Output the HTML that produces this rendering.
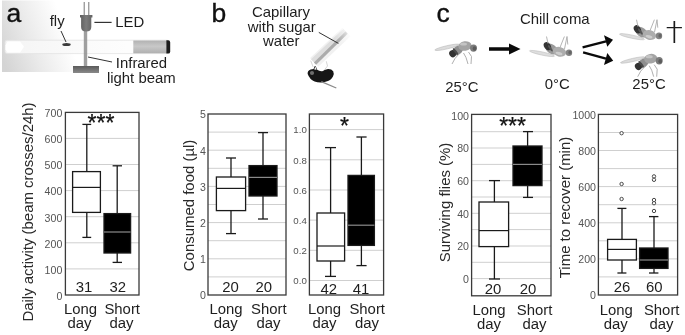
<!DOCTYPE html>
<html lang="en"><head><meta charset="utf-8"><title>Figure: activity, feeding and chill coma recovery</title>
<style>html,body{margin:0;padding:0;background:#fff}svg{display:block}text{font-family:"Liberation Sans", Arial, sans-serif}</style>
</head><body>
<svg width="685" height="335" viewBox="0 0 685 335">
<defs>
<linearGradient id="bga" gradientUnits="userSpaceOnUse" x1="2" y1="58" x2="67" y2="34">
 <stop offset="0" stop-color="#d4d4d4"/><stop offset="0.5" stop-color="#ebebeb"/><stop offset="1" stop-color="#ffffff"/>
</linearGradient>
<linearGradient id="tube" x1="0" y1="0" x2="1" y2="0">
 <stop offset="0" stop-color="#f4f4f4"/><stop offset="0.5" stop-color="#fbfbfb"/><stop offset="1" stop-color="#ffffff"/>
</linearGradient>
<linearGradient id="food" x1="0" y1="0" x2="0" y2="1">
 <stop offset="0" stop-color="#b2b2b2"/><stop offset="0.45" stop-color="#c8c8c8"/><stop offset="1" stop-color="#b0b0b0"/>
</linearGradient>
<linearGradient id="cg1" gradientUnits="userSpaceOnUse" x1="347" y1="32" x2="314" y2="63">
 <stop offset="0" stop-color="#f1f1f1" stop-opacity="0.25"/><stop offset="0.3" stop-color="#f1f1f1" stop-opacity="1"/><stop offset="1" stop-color="#f1f1f1" stop-opacity="1"/>
</linearGradient>
<linearGradient id="cg2" gradientUnits="userSpaceOnUse" x1="347" y1="32" x2="314" y2="63">
 <stop offset="0" stop-color="#dedede" stop-opacity="0.25"/><stop offset="0.3" stop-color="#dedede" stop-opacity="1"/><stop offset="1" stop-color="#dedede" stop-opacity="1"/>
</linearGradient>
<linearGradient id="cg3" gradientUnits="userSpaceOnUse" x1="347" y1="32" x2="314" y2="63">
 <stop offset="0" stop-color="#acacac" stop-opacity="0.25"/><stop offset="0.3" stop-color="#acacac" stop-opacity="1"/><stop offset="1" stop-color="#acacac" stop-opacity="1"/>
</linearGradient>
<linearGradient id="led" x1="0" y1="0" x2="1" y2="0">
 <stop offset="0" stop-color="#5e5e5e"/><stop offset="0.5" stop-color="#7c7c7c"/><stop offset="1" stop-color="#626262"/>
</linearGradient>
<linearGradient id="base" x1="0" y1="0" x2="0" y2="1">
 <stop offset="0" stop-color="#5a5a5a"/><stop offset="1" stop-color="#8a8a8a"/>
</linearGradient>
<linearGradient id="cap" x1="0" y1="0" x2="0.8" y2="0.7">
 <stop offset="0" stop-color="#ededed"/><stop offset="0.45" stop-color="#b4b4b4"/><stop offset="0.75" stop-color="#e2e2e2"/><stop offset="1" stop-color="#f6f6f6"/>
</linearGradient>
<filter id="b1" x="-20%" y="-20%" width="140%" height="140%"><feGaussianBlur stdDeviation="0.6"/></filter>
<filter id="b2" x="-20%" y="-20%" width="140%" height="140%"><feGaussianBlur stdDeviation="0.9"/></filter>
<g id="fly">
  <!-- side-view fruit fly, head to the right; origin near thorax centre -->
  <ellipse cx="-17.5" cy="0.8" rx="12.5" ry="1.6" transform="rotate(-13 -17.5 0.8)" fill="#dcdcdc" stroke="#b4b4b4" stroke-width="0.5"/>
  <ellipse cx="-7" cy="4" rx="6.2" ry="4.2" transform="rotate(-38 -7 4)" fill="#8e8e8e"/>
  <ellipse cx="-11.8" cy="7.2" rx="3.4" ry="3.6" transform="rotate(-38 -11.8 7.2)" fill="#333"/>
  <ellipse cx="-9" cy="5" rx="1.2" ry="4" transform="rotate(-38 -9 5)" fill="#4a4a4a"/>
  <ellipse cx="0.5" cy="-0.5" rx="6.6" ry="4.8" transform="rotate(-8 0.5 -0.5)" fill="#a4a4a4"/>
  <ellipse cx="-1" cy="-2.5" rx="3.5" ry="1.6" fill="#c4c4c4"/>
  <ellipse cx="9" cy="1.6" rx="3.5" ry="3.7" fill="#7c7c7c"/>
  <ellipse cx="10" cy="2" rx="1.8" ry="2.3" fill="#5c5c5c"/>
  <path d="M-5,7 L-9.5,12 L-12.5,17.5 M-1,6.5 L1.5,11 L3.5,17.5 M4,5.5 L7,10 L6.5,17.5" fill="none" stroke="#a6a6a6" stroke-width="0.9"/>
</g>
<g id="flyup">
  <!-- fly lying on its back, head to the right -->
  <ellipse cx="-15" cy="6" rx="12.8" ry="1.6" transform="rotate(12 -15 6)" fill="#dedede" stroke="#b6b6b6" stroke-width="0.5"/>
  <ellipse cx="-5.5" cy="1.5" rx="6.8" ry="4.6" transform="rotate(35 -5.5 1.5)" fill="#9a9a9a"/>
  <ellipse cx="-9.6" cy="-1.4" rx="3.2" ry="4.4" transform="rotate(-35 -9.6 -1.4)" fill="#343434"/>
  <ellipse cx="-6.6" cy="0.8" rx="1.1" ry="3.8" transform="rotate(-35 -6.6 0.8)" fill="#555"/>
  <ellipse cx="2.5" cy="4.3" rx="6.8" ry="4.8" transform="rotate(15 2.5 4.3)" fill="#adadad"/>
  <ellipse cx="2" cy="6" rx="3.5" ry="1.5" transform="rotate(15 2 6)" fill="#cdcdcd"/>
  <ellipse cx="12" cy="5.2" rx="3.2" ry="3.3" fill="#858585"/>
  <ellipse cx="13" cy="5" rx="1.6" ry="2" fill="#666"/>
  <path d="M-9,-4 L-10.5,-11 M3,0 L7.4,-11 M7.5,1.5 L10,-11 L10.8,-3" fill="none" stroke="#acacac" stroke-width="0.9"/>
</g>
</defs>
<rect x="0" y="0" width="685" height="335" fill="#fff"/>
<g>
<rect x="2" y="0.5" width="100" height="71.5" fill="url(#bga)"/>
<rect x="5" y="40.2" width="164" height="13.4" rx="2" fill="url(#tube)" stroke="#e2e2e2" stroke-width="0.8"/>
<path d="M5.5,45.5 L7.5,41.6 L20,41.6 L24,46.8 L20,52.6 L7.5,52.6 L5.5,49.5 Z" fill="#ffffff"/>
<rect x="133.3" y="40.5" width="33.6" height="12.8" fill="url(#food)"/>
<path d="M166.4,40.2 H168.2 Q170.2,40.2 170.2,42.4 V51.4 Q170.2,53.6 168.2,53.6 H166.4 Z" fill="#1c1c1c"/>
<line x1="84.2" y1="2" x2="84.2" y2="15" stroke="#777" stroke-width="1"/>
<line x1="88.8" y1="2" x2="88.8" y2="15" stroke="#777" stroke-width="1"/>
<rect x="83.8" y="30" width="3.4" height="37" fill="#8e8e8e" opacity="0.85"/>
<path d="M80,15 H92.4 V17.5 H91.3 V27 Q91.3,31.5 86.2,31.5 Q81.1,31.5 81.1,27 V17.5 H80 Z" fill="url(#led)"/>
<rect x="73" y="66" width="26" height="7" fill="url(#base)"/>
<ellipse cx="66.5" cy="44.6" rx="4.2" ry="1.5" fill="#3a3a3a" filter="url(#b1)"/>
<line x1="61.0" y1="31.0" x2="66.0" y2="42.0" stroke="#333" stroke-width="1" />
<line x1="94.4" y1="22.4" x2="111.6" y2="22.4" stroke="#333" stroke-width="1.2" />
<line x1="88.0" y1="57.0" x2="112.0" y2="62.0" stroke="#333" stroke-width="1" />
<text x="6.4" y="22.4" font-size="26.5" text-anchor="start" fill="#111" stroke="#111" stroke-width="0.35">a</text>
<text x="49.7" y="26.0" font-size="14.9" text-anchor="start" fill="#1e1e1e" >fly</text>
<text x="115.3" y="27.0" font-size="14.9" text-anchor="start" fill="#1e1e1e" >LED</text>
<text x="141.5" y="67.6" font-size="14.9" text-anchor="middle" fill="#1e1e1e" >Infrared</text>
<text x="141.3" y="83.0" font-size="14.9" text-anchor="middle" fill="#1e1e1e" >light beam</text>
</g>
<g>
<text x="211.4" y="22.0" font-size="26.5" text-anchor="start" fill="#111" stroke="#111" stroke-width="0.35">b</text>
<text x="281.0" y="17.0" font-size="14.95" text-anchor="middle" fill="#1e1e1e" >Capillary</text>
<text x="281.8" y="32.0" font-size="14.95" text-anchor="middle" fill="#1e1e1e" >with sugar</text>
<text x="281.3" y="46.4" font-size="14.95" text-anchor="middle" fill="#1e1e1e" >water</text>
<g filter="url(#b1)">
<line x1="346.5" y1="32" x2="314.2" y2="62.4" stroke="url(#cg1)" stroke-width="12" />
<line x1="345.6" y1="31" x2="313.2" y2="61.5" stroke="url(#cg2)" stroke-width="6.5"/>
<line x1="346.6" y1="32.6" x2="315" y2="63.6" stroke="url(#cg3)" stroke-width="3.2"/>
</g>
<line x1="318.8" y1="32.4" x2="338.4" y2="43.4" stroke="#333" stroke-width="1" />
<g filter="url(#b1)">
<path d="M307.6,73.8 Q307.6,70.4 310.6,69.4 L313.6,69 L314.4,66.6 L315.6,66 L317.2,69.8 Q319.5,71.6 322.4,71.2 Q325,69.2 328.2,69 Q331.6,69 333.2,71.2 Q334.4,73.6 333,76.6 Q331,80.4 326.4,81.6 L322.6,82.4 Q318.6,83 314.6,81.4 Q309.6,79.6 307.6,73.8 Z" fill="#141414"/>
<circle cx="312" cy="73" r="2.1" fill="#6e6e6e"/>
<path d="M314.2,69.4 L315.3,66.2 L316.6,69.8 Z" fill="#f4f4f4"/>
<line x1="321.3" y1="81.6" x2="336.3" y2="88" stroke="#8a8a8a" stroke-width="1.3"/>
<path d="M310.7,60.7 L313.2,67 M326.3,61.3 L327.5,66 L324.4,70" fill="none" stroke="#c4c4c4" stroke-width="0.7"/>
</g>
</g>
<g>
<text x="436.6" y="22.4" font-size="26.5" text-anchor="start" fill="#111" stroke="#111" stroke-width="0.35">c</text>
<text x="554.8" y="24.0" font-size="14.95" text-anchor="middle" fill="#1e1e1e" >Chill coma</text>
<use href="#fly" x="464.5" y="46.5" filter="url(#b1)"/>
<use href="#fly" x="650.2" y="59.2" filter="url(#b1)"/>
<use href="#flyup" x="557" y="47.5" filter="url(#b1)"/>
<use href="#flyup" x="647" y="30.7" filter="url(#b1)"/>
<path d="M489,47.2 H509 V43.4 L520.5,49 L509,54.6 V50.8 H489 Z" fill="#0a0a0a"/>
<g fill="#0a0a0a" stroke="#0a0a0a">
<line x1="582.6" y1="47.4" x2="606" y2="41.3" stroke-width="2.4"/>
<path d="M613,39.7 L604,35.3 L607.3,46.8 Z" stroke="none"/>
<line x1="583.1" y1="52.4" x2="606" y2="58.6" stroke-width="2.4"/>
<path d="M613.2,60.8 L607.3,53 L604,65 Z" stroke="none"/>
</g>
<text transform="translate(674.3,40.5) scale(1.3,1)" x="0" y="0" font-size="26.4" text-anchor="middle" fill="#1a1a1a" style="font-family:'DejaVu Sans Light','DejaVu Sans',sans-serif;font-weight:200">&#8224;</text>
<text x="461.8" y="91.6" font-size="14.9" text-anchor="middle" fill="#1e1e1e" >25&#176;C</text>
<text x="557.3" y="89.4" font-size="14.9" text-anchor="middle" fill="#1e1e1e" >0&#176;C</text>
<text x="649.0" y="89.2" font-size="14.9" text-anchor="middle" fill="#1e1e1e" >25&#176;C</text>
</g>
<g>
<line x1="65.4" y1="268.9" x2="139.0" y2="268.9" stroke="#cfcfcf" stroke-width="1.0" />
<line x1="65.4" y1="242.8" x2="139.0" y2="242.8" stroke="#cfcfcf" stroke-width="1.0" />
<line x1="65.4" y1="216.7" x2="139.0" y2="216.7" stroke="#cfcfcf" stroke-width="1.0" />
<line x1="65.4" y1="190.6" x2="139.0" y2="190.6" stroke="#cfcfcf" stroke-width="1.0" />
<line x1="65.4" y1="164.5" x2="139.0" y2="164.5" stroke="#cfcfcf" stroke-width="1.0" />
<line x1="65.4" y1="138.4" x2="139.0" y2="138.4" stroke="#cfcfcf" stroke-width="1.0" />
<line x1="86.8" y1="124.4" x2="86.8" y2="171.6" stroke="#1a1a1a" stroke-width="1.3" />
<line x1="86.8" y1="212.4" x2="86.8" y2="237.4" stroke="#1a1a1a" stroke-width="1.3" />
<line x1="82.4" y1="124.4" x2="91.2" y2="124.4" stroke="#1a1a1a" stroke-width="1.3" />
<line x1="82.4" y1="237.4" x2="91.2" y2="237.4" stroke="#1a1a1a" stroke-width="1.3" />
<rect x="72.6" y="171.6" width="27.8" height="40.8" fill="#fff" stroke="#1a1a1a" stroke-width="1.3"/>
<line x1="72.6" y1="187.4" x2="100.4" y2="187.4" stroke="#1a1a1a" stroke-width="1.2" />
<line x1="117.2" y1="165.8" x2="117.2" y2="213.6" stroke="#1a1a1a" stroke-width="1.3" />
<line x1="117.2" y1="253.0" x2="117.2" y2="262.4" stroke="#1a1a1a" stroke-width="1.3" />
<line x1="112.6" y1="165.8" x2="122.0" y2="165.8" stroke="#1a1a1a" stroke-width="1.3" />
<line x1="112.6" y1="262.4" x2="122.0" y2="262.4" stroke="#1a1a1a" stroke-width="1.3" />
<rect x="104.0" y="213.6" width="26.6" height="39.4" fill="#000" stroke="#1a1a1a" stroke-width="1.3"/>
<line x1="104.0" y1="232.0" x2="130.6" y2="232.0" stroke="#8a8a8a" stroke-width="1.2" />
<rect x="65.4" y="112.4" width="73.6" height="182.6" fill="none" stroke="#3a3a3a" stroke-width="1.3"/>
<text x="62.3" y="299.8" font-size="10.6" text-anchor="end" fill="#555" >0</text>
<text x="62.3" y="273.7" font-size="10.6" text-anchor="end" fill="#555" >100</text>
<text x="62.3" y="247.6" font-size="10.6" text-anchor="end" fill="#555" >200</text>
<text x="62.3" y="221.5" font-size="10.6" text-anchor="end" fill="#555" >300</text>
<text x="62.3" y="195.4" font-size="10.6" text-anchor="end" fill="#555" >400</text>
<text x="62.3" y="169.3" font-size="10.6" text-anchor="end" fill="#555" >500</text>
<text x="62.3" y="143.2" font-size="10.6" text-anchor="end" fill="#555" >600</text>
<text x="62.3" y="117.1" font-size="10.6" text-anchor="end" fill="#555" >700</text>
<text x="84.0" y="292.4" font-size="14.9" text-anchor="middle" fill="#1e1e1e" >31</text>
<text x="117.8" y="292.4" font-size="14.9" text-anchor="middle" fill="#1e1e1e" >32</text>
<text x="80.5" y="313.6" font-size="14.9" text-anchor="middle" fill="#1e1e1e" >Long</text>
<text x="79.5" y="328.0" font-size="14.9" text-anchor="middle" fill="#1e1e1e" >day</text>
<text x="122.2" y="313.6" font-size="14.9" text-anchor="middle" fill="#1e1e1e" >Short</text>
<text x="121.5" y="328.0" font-size="14.9" text-anchor="middle" fill="#1e1e1e" >day</text>
<text x="101.0" y="131.0" font-size="23" text-anchor="middle" fill="#111" stroke="#111" stroke-width="0.25">***</text>
<text transform="translate(33.0,321.6) rotate(-90)" font-size="14.95" fill="#2a2a2a">Daily activity (beam crosses/24h)</text>
</g>
<g>
<line x1="208.0" y1="276.9" x2="286.0" y2="276.9" stroke="#cfcfcf" stroke-width="1.0" />
<line x1="208.0" y1="258.8" x2="286.0" y2="258.8" stroke="#cfcfcf" stroke-width="1.0" />
<line x1="208.0" y1="240.7" x2="286.0" y2="240.7" stroke="#cfcfcf" stroke-width="1.0" />
<line x1="208.0" y1="222.6" x2="286.0" y2="222.6" stroke="#cfcfcf" stroke-width="1.0" />
<line x1="208.0" y1="204.5" x2="286.0" y2="204.5" stroke="#cfcfcf" stroke-width="1.0" />
<line x1="208.0" y1="186.4" x2="286.0" y2="186.4" stroke="#cfcfcf" stroke-width="1.0" />
<line x1="208.0" y1="168.3" x2="286.0" y2="168.3" stroke="#cfcfcf" stroke-width="1.0" />
<line x1="208.0" y1="150.2" x2="286.0" y2="150.2" stroke="#cfcfcf" stroke-width="1.0" />
<line x1="208.0" y1="132.1" x2="286.0" y2="132.1" stroke="#cfcfcf" stroke-width="1.0" />
<line x1="231.0" y1="158.0" x2="231.0" y2="177.0" stroke="#1a1a1a" stroke-width="1.3" />
<line x1="231.0" y1="210.6" x2="231.0" y2="233.6" stroke="#1a1a1a" stroke-width="1.3" />
<line x1="226.0" y1="158.0" x2="236.0" y2="158.0" stroke="#1a1a1a" stroke-width="1.3" />
<line x1="226.0" y1="233.6" x2="236.0" y2="233.6" stroke="#1a1a1a" stroke-width="1.3" />
<rect x="216.4" y="177.0" width="29.2" height="33.6" fill="#fff" stroke="#1a1a1a" stroke-width="1.3"/>
<line x1="216.4" y1="188.4" x2="245.6" y2="188.4" stroke="#1a1a1a" stroke-width="1.2" />
<line x1="263.0" y1="132.6" x2="263.0" y2="165.6" stroke="#1a1a1a" stroke-width="1.3" />
<line x1="263.0" y1="196.0" x2="263.0" y2="219.0" stroke="#1a1a1a" stroke-width="1.3" />
<line x1="258.0" y1="132.6" x2="268.0" y2="132.6" stroke="#1a1a1a" stroke-width="1.3" />
<line x1="258.0" y1="219.0" x2="268.0" y2="219.0" stroke="#1a1a1a" stroke-width="1.3" />
<rect x="249.0" y="165.6" width="28.0" height="30.4" fill="#000" stroke="#1a1a1a" stroke-width="1.3"/>
<line x1="249.0" y1="177.4" x2="277.0" y2="177.4" stroke="#8a8a8a" stroke-width="1.2" />
<rect x="208.0" y="114.0" width="78.0" height="181.0" fill="none" stroke="#3a3a3a" stroke-width="1.3"/>
<text x="205.8" y="299.4" font-size="10.6" text-anchor="end" fill="#555" >0</text>
<text x="205.8" y="263.2" font-size="10.6" text-anchor="end" fill="#555" >1</text>
<text x="205.8" y="227.0" font-size="10.6" text-anchor="end" fill="#555" >2</text>
<text x="205.8" y="190.8" font-size="10.6" text-anchor="end" fill="#555" >3</text>
<text x="205.8" y="154.6" font-size="10.6" text-anchor="end" fill="#555" >4</text>
<text x="205.8" y="118.4" font-size="10.6" text-anchor="end" fill="#555" >5</text>
<text x="230.5" y="292.4" font-size="14.9" text-anchor="middle" fill="#1e1e1e" >20</text>
<text x="263.8" y="292.4" font-size="14.9" text-anchor="middle" fill="#1e1e1e" >20</text>
<text x="226.0" y="313.6" font-size="14.9" text-anchor="middle" fill="#1e1e1e" >Long</text>
<text x="225.7" y="327.8" font-size="14.9" text-anchor="middle" fill="#1e1e1e" >day</text>
<text x="268.8" y="313.6" font-size="14.9" text-anchor="middle" fill="#1e1e1e" >Short</text>
<text x="268.5" y="327.8" font-size="14.9" text-anchor="middle" fill="#1e1e1e" >day</text>
<text transform="translate(193.6,271.2) rotate(-90)" font-size="14.95" fill="#2a2a2a">Consumed food (&#181;l)</text>
</g>
<g>
<line x1="309.4" y1="280.5" x2="383.6" y2="280.5" stroke="#cfcfcf" stroke-width="1.0" />
<line x1="309.4" y1="250.3" x2="383.6" y2="250.3" stroke="#cfcfcf" stroke-width="1.0" />
<line x1="309.4" y1="220.1" x2="383.6" y2="220.1" stroke="#cfcfcf" stroke-width="1.0" />
<line x1="309.4" y1="190.0" x2="383.6" y2="190.0" stroke="#cfcfcf" stroke-width="1.0" />
<line x1="309.4" y1="159.8" x2="383.6" y2="159.8" stroke="#cfcfcf" stroke-width="1.0" />
<line x1="309.4" y1="129.6" x2="383.6" y2="129.6" stroke="#cfcfcf" stroke-width="1.0" />
<line x1="330.6" y1="147.6" x2="330.6" y2="213.0" stroke="#1a1a1a" stroke-width="1.3" />
<line x1="330.6" y1="261.0" x2="330.6" y2="276.4" stroke="#1a1a1a" stroke-width="1.3" />
<line x1="325.0" y1="147.6" x2="336.0" y2="147.6" stroke="#1a1a1a" stroke-width="1.3" />
<line x1="325.0" y1="276.4" x2="336.0" y2="276.4" stroke="#1a1a1a" stroke-width="1.3" />
<rect x="317.0" y="213.0" width="27.6" height="48.0" fill="#fff" stroke="#1a1a1a" stroke-width="1.3"/>
<line x1="317.0" y1="246.0" x2="344.6" y2="246.0" stroke="#1a1a1a" stroke-width="1.2" />
<line x1="361.4" y1="137.0" x2="361.4" y2="175.4" stroke="#1a1a1a" stroke-width="1.3" />
<line x1="361.4" y1="245.4" x2="361.4" y2="265.6" stroke="#1a1a1a" stroke-width="1.3" />
<line x1="356.4" y1="137.0" x2="366.6" y2="137.0" stroke="#1a1a1a" stroke-width="1.3" />
<line x1="356.4" y1="265.6" x2="366.6" y2="265.6" stroke="#1a1a1a" stroke-width="1.3" />
<rect x="348.0" y="175.4" width="26.4" height="70.0" fill="#000" stroke="#1a1a1a" stroke-width="1.3"/>
<line x1="348.0" y1="225.2" x2="374.4" y2="225.2" stroke="#8a8a8a" stroke-width="1.2" />
<rect x="309.4" y="114.0" width="74.2" height="181.0" fill="none" stroke="#3a3a3a" stroke-width="1.3"/>
<text x="306.8" y="284.3" font-size="9.7" text-anchor="end" fill="#555" >0.0</text>
<text x="306.8" y="254.1" font-size="9.7" text-anchor="end" fill="#555" >0.2</text>
<text x="306.8" y="223.9" font-size="9.7" text-anchor="end" fill="#555" >0.4</text>
<text x="306.8" y="193.8" font-size="9.7" text-anchor="end" fill="#555" >0.6</text>
<text x="306.8" y="163.6" font-size="9.7" text-anchor="end" fill="#555" >0.8</text>
<text x="306.8" y="133.4" font-size="9.7" text-anchor="end" fill="#555" >1.0</text>
<text x="328.8" y="293.6" font-size="14.9" text-anchor="middle" fill="#1e1e1e" >42</text>
<text x="361.0" y="293.6" font-size="14.9" text-anchor="middle" fill="#1e1e1e" >41</text>
<text x="324.5" y="314.0" font-size="14.9" text-anchor="middle" fill="#1e1e1e" >Long</text>
<text x="324.5" y="328.0" font-size="14.9" text-anchor="middle" fill="#1e1e1e" >day</text>
<text x="367.2" y="314.0" font-size="14.9" text-anchor="middle" fill="#1e1e1e" >Short</text>
<text x="367.0" y="328.0" font-size="14.9" text-anchor="middle" fill="#1e1e1e" >day</text>
<text x="344.6" y="133.5" font-size="23" text-anchor="middle" fill="#111" stroke="#111" stroke-width="0.25">*</text>
</g>
<g>
<line x1="471.6" y1="278.6" x2="551.0" y2="278.6" stroke="#cfcfcf" stroke-width="1.0" />
<line x1="471.6" y1="262.3" x2="551.0" y2="262.3" stroke="#cfcfcf" stroke-width="1.0" />
<line x1="471.6" y1="246.0" x2="551.0" y2="246.0" stroke="#cfcfcf" stroke-width="1.0" />
<line x1="471.6" y1="229.6" x2="551.0" y2="229.6" stroke="#cfcfcf" stroke-width="1.0" />
<line x1="471.6" y1="213.3" x2="551.0" y2="213.3" stroke="#cfcfcf" stroke-width="1.0" />
<line x1="471.6" y1="197.0" x2="551.0" y2="197.0" stroke="#cfcfcf" stroke-width="1.0" />
<line x1="471.6" y1="180.7" x2="551.0" y2="180.7" stroke="#cfcfcf" stroke-width="1.0" />
<line x1="471.6" y1="164.4" x2="551.0" y2="164.4" stroke="#cfcfcf" stroke-width="1.0" />
<line x1="471.6" y1="148.0" x2="551.0" y2="148.0" stroke="#cfcfcf" stroke-width="1.0" />
<line x1="471.6" y1="131.7" x2="551.0" y2="131.7" stroke="#cfcfcf" stroke-width="1.0" />
<line x1="494.4" y1="180.6" x2="494.4" y2="202.0" stroke="#1a1a1a" stroke-width="1.3" />
<line x1="494.4" y1="246.6" x2="494.4" y2="279.0" stroke="#1a1a1a" stroke-width="1.3" />
<line x1="489.0" y1="180.6" x2="500.0" y2="180.6" stroke="#1a1a1a" stroke-width="1.3" />
<line x1="489.0" y1="279.0" x2="500.0" y2="279.0" stroke="#1a1a1a" stroke-width="1.3" />
<rect x="479.0" y="202.0" width="29.6" height="44.6" fill="#fff" stroke="#1a1a1a" stroke-width="1.3"/>
<line x1="479.0" y1="230.6" x2="508.6" y2="230.6" stroke="#1a1a1a" stroke-width="1.2" />
<line x1="527.6" y1="131.6" x2="527.6" y2="146.0" stroke="#1a1a1a" stroke-width="1.3" />
<line x1="527.6" y1="185.6" x2="527.6" y2="197.4" stroke="#1a1a1a" stroke-width="1.3" />
<line x1="523.0" y1="131.6" x2="533.0" y2="131.6" stroke="#1a1a1a" stroke-width="1.3" />
<line x1="523.0" y1="197.4" x2="533.0" y2="197.4" stroke="#1a1a1a" stroke-width="1.3" />
<rect x="513.0" y="146.0" width="29.0" height="39.6" fill="#000" stroke="#1a1a1a" stroke-width="1.3"/>
<line x1="513.0" y1="164.4" x2="542.0" y2="164.4" stroke="#8a8a8a" stroke-width="1.2" />
<rect x="471.6" y="114.4" width="79.4" height="181.4" fill="none" stroke="#3a3a3a" stroke-width="1.3"/>
<text x="469.0" y="283.0" font-size="10.6" text-anchor="end" fill="#555" >0</text>
<text x="469.0" y="250.4" font-size="10.6" text-anchor="end" fill="#555" >20</text>
<text x="469.0" y="217.7" font-size="10.6" text-anchor="end" fill="#555" >40</text>
<text x="469.0" y="185.1" font-size="10.6" text-anchor="end" fill="#555" >60</text>
<text x="469.0" y="152.4" font-size="10.6" text-anchor="end" fill="#555" >80</text>
<text x="469.0" y="119.8" font-size="10.6" text-anchor="end" fill="#555" >100</text>
<text x="493.0" y="293.6" font-size="14.9" text-anchor="middle" fill="#1e1e1e" >20</text>
<text x="528.0" y="293.6" font-size="14.9" text-anchor="middle" fill="#1e1e1e" >20</text>
<text x="489.0" y="315.0" font-size="14.9" text-anchor="middle" fill="#1e1e1e" >Long</text>
<text x="489.0" y="329.0" font-size="14.9" text-anchor="middle" fill="#1e1e1e" >day</text>
<text x="534.5" y="315.0" font-size="14.9" text-anchor="middle" fill="#1e1e1e" >Short</text>
<text x="534.5" y="329.0" font-size="14.9" text-anchor="middle" fill="#1e1e1e" >day</text>
<text x="512.6" y="133.5" font-size="23" text-anchor="middle" fill="#111" stroke="#111" stroke-width="0.25">***</text>
<text transform="translate(449.9,262.2) rotate(-90)" font-size="14.95" fill="#2a2a2a">Surviving flies (%)</text>
</g>
<g>
<line x1="598.4" y1="276.9" x2="677.6" y2="276.9" stroke="#cfcfcf" stroke-width="1.0" />
<line x1="598.4" y1="258.9" x2="677.6" y2="258.9" stroke="#cfcfcf" stroke-width="1.0" />
<line x1="598.4" y1="240.8" x2="677.6" y2="240.8" stroke="#cfcfcf" stroke-width="1.0" />
<line x1="598.4" y1="222.8" x2="677.6" y2="222.8" stroke="#cfcfcf" stroke-width="1.0" />
<line x1="598.4" y1="204.7" x2="677.6" y2="204.7" stroke="#cfcfcf" stroke-width="1.0" />
<line x1="598.4" y1="186.6" x2="677.6" y2="186.6" stroke="#cfcfcf" stroke-width="1.0" />
<line x1="598.4" y1="168.6" x2="677.6" y2="168.6" stroke="#cfcfcf" stroke-width="1.0" />
<line x1="598.4" y1="150.5" x2="677.6" y2="150.5" stroke="#cfcfcf" stroke-width="1.0" />
<line x1="598.4" y1="132.5" x2="677.6" y2="132.5" stroke="#cfcfcf" stroke-width="1.0" />
<line x1="622.0" y1="208.4" x2="622.0" y2="239.4" stroke="#1a1a1a" stroke-width="1.3" />
<line x1="622.0" y1="260.0" x2="622.0" y2="273.0" stroke="#1a1a1a" stroke-width="1.3" />
<line x1="617.4" y1="208.4" x2="626.4" y2="208.4" stroke="#1a1a1a" stroke-width="1.3" />
<line x1="617.4" y1="273.0" x2="626.4" y2="273.0" stroke="#1a1a1a" stroke-width="1.3" />
<rect x="607.6" y="239.4" width="28.8" height="20.6" fill="#fff" stroke="#1a1a1a" stroke-width="1.3"/>
<line x1="607.6" y1="249.4" x2="636.4" y2="249.4" stroke="#1a1a1a" stroke-width="1.2" />
<line x1="654.0" y1="216.6" x2="654.0" y2="248.0" stroke="#1a1a1a" stroke-width="1.3" />
<line x1="654.0" y1="268.4" x2="654.0" y2="273.0" stroke="#1a1a1a" stroke-width="1.3" />
<line x1="649.0" y1="216.6" x2="658.4" y2="216.6" stroke="#1a1a1a" stroke-width="1.3" />
<line x1="649.0" y1="273.0" x2="658.4" y2="273.0" stroke="#1a1a1a" stroke-width="1.3" />
<rect x="639.6" y="248.0" width="28.4" height="20.4" fill="#000" stroke="#1a1a1a" stroke-width="1.3"/>
<line x1="639.6" y1="260.0" x2="668.0" y2="260.0" stroke="#8a8a8a" stroke-width="1.2" />
<circle cx="621.6" cy="133.2" r="1.7" fill="#fff" stroke="#4a4a4a" stroke-width="1"/>
<circle cx="621.6" cy="184.0" r="1.7" fill="#fff" stroke="#4a4a4a" stroke-width="1"/>
<circle cx="621.6" cy="199.0" r="1.7" fill="#fff" stroke="#4a4a4a" stroke-width="1"/>
<circle cx="654.0" cy="176.4" r="1.7" fill="#fff" stroke="#4a4a4a" stroke-width="1"/>
<circle cx="654.0" cy="179.8" r="1.7" fill="#fff" stroke="#4a4a4a" stroke-width="1"/>
<circle cx="654.0" cy="200.0" r="1.7" fill="#fff" stroke="#4a4a4a" stroke-width="1"/>
<circle cx="654.0" cy="203.2" r="1.7" fill="#fff" stroke="#4a4a4a" stroke-width="1"/>
<circle cx="654.0" cy="211.0" r="1.7" fill="#fff" stroke="#4a4a4a" stroke-width="1"/>
<rect x="598.4" y="114.4" width="79.2" height="180.6" fill="none" stroke="#3a3a3a" stroke-width="1.3"/>
<text x="596.0" y="299.4" font-size="10.6" text-anchor="end" fill="#555" >0</text>
<text x="596.0" y="263.3" font-size="10.6" text-anchor="end" fill="#555" >200</text>
<text x="596.0" y="227.2" font-size="10.6" text-anchor="end" fill="#555" >400</text>
<text x="596.0" y="191.0" font-size="10.6" text-anchor="end" fill="#555" >600</text>
<text x="596.0" y="154.9" font-size="10.6" text-anchor="end" fill="#555" >800</text>
<text x="596.0" y="118.8" font-size="10.6" text-anchor="end" fill="#555" >1000</text>
<text x="622.0" y="292.4" font-size="14.9" text-anchor="middle" fill="#1e1e1e" >26</text>
<text x="654.2" y="292.4" font-size="14.9" text-anchor="middle" fill="#1e1e1e" >60</text>
<text x="616.2" y="315.0" font-size="14.9" text-anchor="middle" fill="#1e1e1e" >Long</text>
<text x="615.8" y="329.0" font-size="14.9" text-anchor="middle" fill="#1e1e1e" >day</text>
<text x="661.7" y="314.6" font-size="14.9" text-anchor="middle" fill="#1e1e1e" >Short</text>
<text x="661.5" y="329.0" font-size="14.9" text-anchor="middle" fill="#1e1e1e" >day</text>
<text transform="translate(570.3,278.2) rotate(-90)" font-size="14.95" fill="#2a2a2a">Time to recover (min)</text>
</g>
</svg>
</body></html>
